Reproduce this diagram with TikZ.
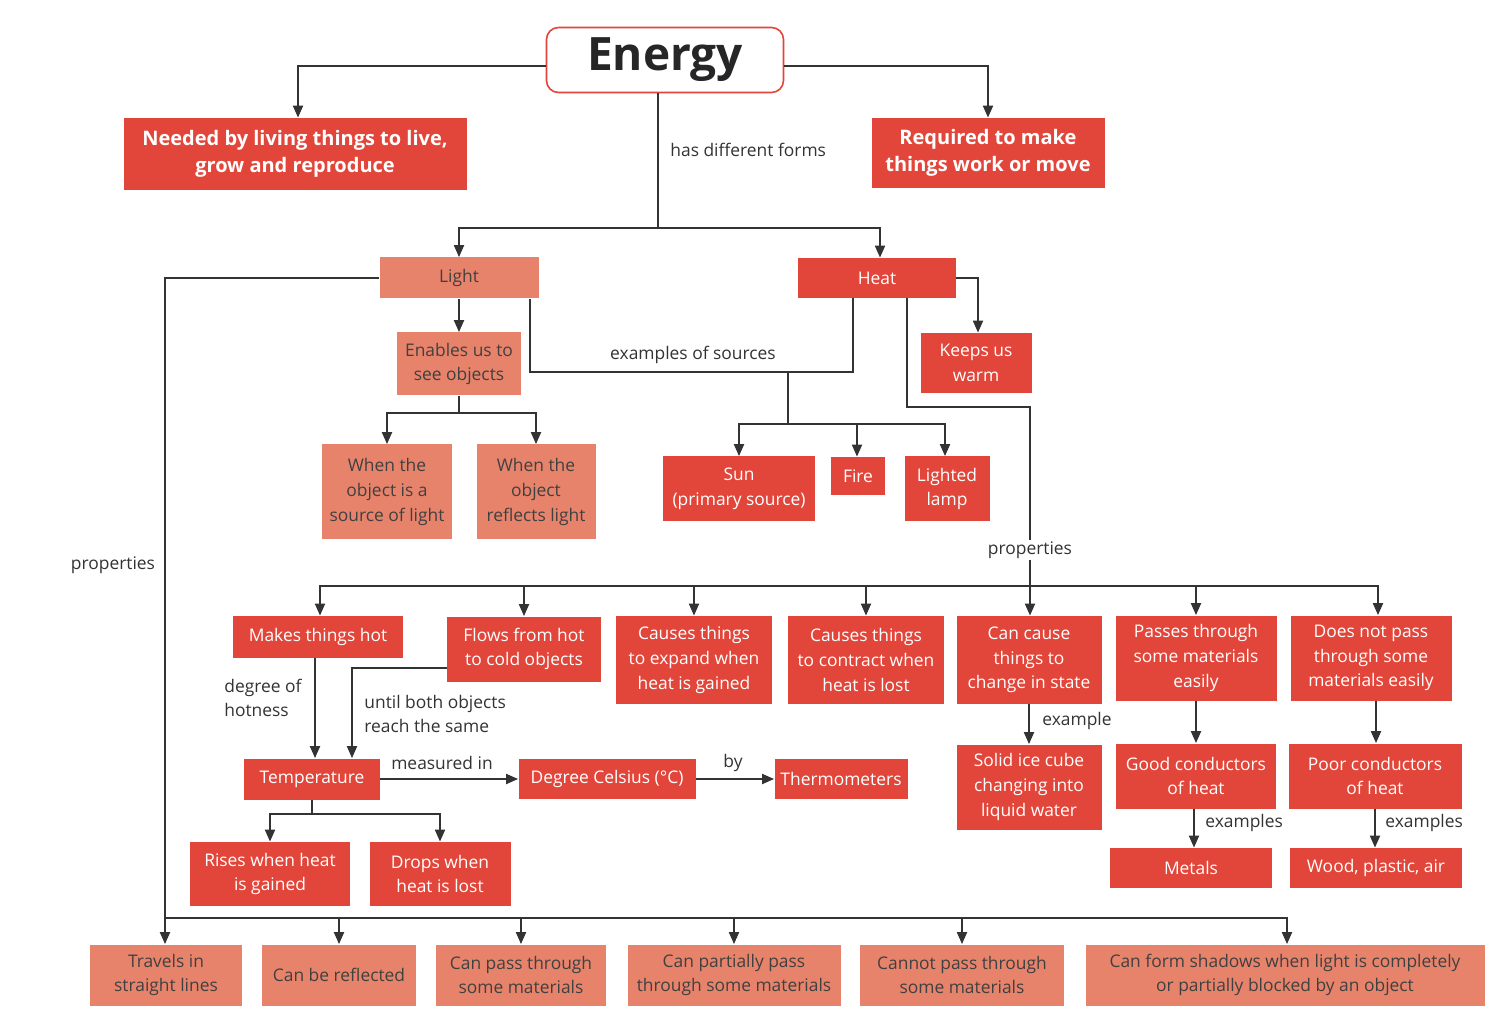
\documentclass[tikz,border=0pt]{standalone}
\usepackage{fontspec}
\setmainfont{Open Sans}
\usetikzlibrary{arrows.meta,calc}
\definecolor{redb}{HTML}{E2463A}
\definecolor{salm}{HTML}{E8836B}
\definecolor{ln}{HTML}{333333}
\begin{document}
\begin{tikzpicture}[x=0.5pt,y=-0.5pt,
  sz/.style 2 args={minimum width=#1*0.5pt, minimum height=#2*0.5pt},
  box/.style={fill=redb,text=white,align=center,inner sep=0pt,font=\fontsize{8.7}{12.3}\selectfont},
  lbox/.style={box,fill=salm,text=black!75},
  lab/.style={text=ln,align=left,inner sep=1pt,font=\fontsize{8.7}{12}\selectfont},
  c/.style={draw=ln,line width=1pt},
  a/.style={c,-{Triangle[length=6pt,width=5pt]}}]
\useasboundingbox[fill=white] (0,0) rectangle (1500,1026);
% nodes
\node[draw=redb,line width=0.8pt,rounded corners=6pt,fill=white,sz={237}{65},font=\bfseries\fontsize{23}{28}\selectfont,text=black!85] (E) at (665,60) {Energy};
\node[box,sz={343}{72},font=\bfseries\fontsize{10}{13.5}\selectfont] (N1) at (295,154) {Needed by living things to live,\\grow and reproduce};
\node[box,sz={233}{70},font=\bfseries\fontsize{10}{13.5}\selectfont] (N2) at (988,153) {Required to make\\things work or move};
\node[lbox,sz={159}{41}] (L) at (459,278) {Light};
\node[box,sz={158}{40}] (H) at (877,278) {Heat};
\node[lbox,sz={124}{63}] (En) at (459,364) {Enables us to\\see objects};
\node[box,sz={111}{60}] (K) at (976,363) {Keeps us\\warm};
\node[lbox,sz={130}{95}] (W1) at (387,492) {When the\\object is a\\source of light};
\node[lbox,sz={119}{95}] (W2) at (536,492) {When the\\object\\reflects light};
\node[box,sz={152}{65}] (Sun) at (739,489) {Sun\\(primary source)};
\node[box,sz={54}{38}] (F) at (858,476) {Fire};
\node[box,sz={85}{65}] (La) at (947,489) {Lighted\\lamp};
\node[box,sz={170}{42}] (P1) at (318,637) {Makes things hot};
\node[box,sz={154}{65}] (P2) at (524,649) {Flows from hot\\to cold objects};
\node[box,sz={156}{88}] (P3) at (694,660) {Causes things\\to expand when\\heat is gained};
\node[box,sz={156}{88}] (P4) at (866,660) {Causes things\\to contract when\\heat is lost};
\node[box,sz={145}{88}] (P5) at (1029,660) {Can cause\\things to\\change in state};
\node[box,sz={161}{85}] (P6) at (1196,658) {Passes through\\some materials\\easily};
\node[box,sz={161}{85}] (P7) at (1371,658) {Does not pass\\through some\\materials easily};
\node[box,sz={136}{41}] (T) at (312,779) {Temperature};
\node[box,sz={177}{40}] (D) at (607,779) {Degree Celsius (°C)};
\node[box,sz={133}{40}] (Th) at (841,779) {Thermometers};
\node[box,sz={145}{85}] (S) at (1029,787) {Solid ice cube\\changing into\\liquid water};
\node[box,sz={160}{65}] (G) at (1196,776) {Good conductors\\of heat};
\node[box,sz={173}{65}] (Po) at (1375,776) {Poor conductors\\of heat};
\node[box,sz={162}{40}] (M) at (1191,868) {Metals};
\node[box,sz={172}{40}] (Wd) at (1376,868) {Wood, plastic, air};
\node[box,sz={160}{64}] (R) at (270,874) {Rises when heat\\is gained};
\node[box,sz={141}{64}] (Dr) at (440,874) {Drops when\\heat is lost};
\node[lbox,sz={152}{61}] (B1) at (166,975) {Travels in\\straight lines};
\node[lbox,sz={154}{61}] (B2) at (339,975) {Can be reflected};
\node[lbox,sz={170}{61}] (B3) at (521,975) {Can pass through\\some materials};
\node[lbox,sz={213}{61}] (B4) at (734,975) {Can partially pass\\through some materials};
\node[lbox,sz={204}{61}] (B5) at (962,975) {Cannot pass through\\some materials};
\node[lbox,sz={399}{61}] (B6) at (1285,975) {Can form shadows when light is completely\\or partially blocked by an object};
% energy
\coordinate (e1) at (298,66); \coordinate (e2) at (988,66);
\draw[a] (E.west |- e1) -- (e1) -- (N1.north -| e1);
\draw[a] (E.east |- e2) -- (e2) -- (N2.north -| e2);
\coordinate (j1) at (658,228);
\draw[c] (E.south -| j1) -- (j1);
\node[lab,anchor=west] at (668,150) {has different forms};
\draw[a] (j1) -| (L.north);
\draw[a] (j1) -| ($(H.north)+(3,0)$);
% light
\draw[a] (L) -- (En);
\coordinate (j2) at (459,413);
\draw[c] (En.south) -- (j2);
\draw[a] (j2) -| (W1.north);
\draw[a] (j2) -| (W2.north);
\coordinate (s1) at (530,372); \coordinate (s2) at (853,372);
\draw[c] (L.south -| s1) -- (s1) -- (s2) -- (H.south -| s2);
\node[lab] at (693,355) {examples of sources};
\coordinate (j3) at (788,424);
\draw[c] (788,372) -- (j3);
\draw[a] (j3) -| (Sun.north);
\draw[a] (j3) -| (F.north -| 857,0);
\draw[a] (j3) -| ($(La.north)+(-2,0)$);
% heat
\draw[a] (H.east) -| ($(K.north)+(2,0)$);
\coordinate (h1) at (907,407); \coordinate (j4) at (1030,586);
\draw[c] (H.south -| h1) -- (h1) -| (j4);
\node[lab,fill=white] at (1030,550) {properties};
\draw[a] (j4) -| (P1.north -| 320,0);
\foreach \n in {P2,P3,P4,P6} \draw[a] (j4) -| (\n.north);
\draw[a] (j4) -- (P5.north -| j4);
\draw[a] (j4) -| (P7.north -| 1378,0);
% light properties
\coordinate (l1) at (165,278); \coordinate (j5) at (165,918);
\draw[c] (L.west) -- (l1) -- (j5);
\node[lab,fill=white] at (113,565) {properties};
\draw[a] (j5) -- (B1.north -| j5);
\foreach \n in {B2,B3,B4,B5} \draw[a] (j5) -| (\n.north);
\draw[a] (j5) -| ($(B6.north)+(2,0)$);
% temperature
\draw[a] (P1.south -| 315,0) -- (T.north -| 315,0);
\node[lab,anchor=west] at (222,698) {degree of\\hotness};
\coordinate (f1) at (352,668);
\draw[a] (P2.west |- f1) -- (f1) -- (T.north -| f1);
\node[lab,anchor=west] at (362,714) {until both objects\\reach the same};
\draw[a] (T) -- (D);
\node[lab] at (442,763) {measured in};
\draw[a] (D) -- (Th);
\node[lab] at (733,763) {by};
\coordinate (j6) at (312,814);
\draw[c] (T.south) -- (j6);
\draw[a] (j6) -| (R.north);
\draw[a] (j6) -| (Dr.north);
% state / conductors
\draw[a] (P5) -- (S);
\node[lab,anchor=west] at (1040,721) {example};
\draw[a] (P6) -- (G);
\draw[a] (P7.south -| 1376,0) -- (Po.north -| 1376,0);
\draw[a] (G.south -| 1194,0) -- (M.north -| 1194,0);
\node[lab,anchor=west] at (1203,823) {examples};
\draw[a] (Po.south -| 1375,0) -- (Wd.north -| 1375,0);
\node[lab,anchor=west] at (1383,823) {examples};
\end{tikzpicture}
\end{document}
